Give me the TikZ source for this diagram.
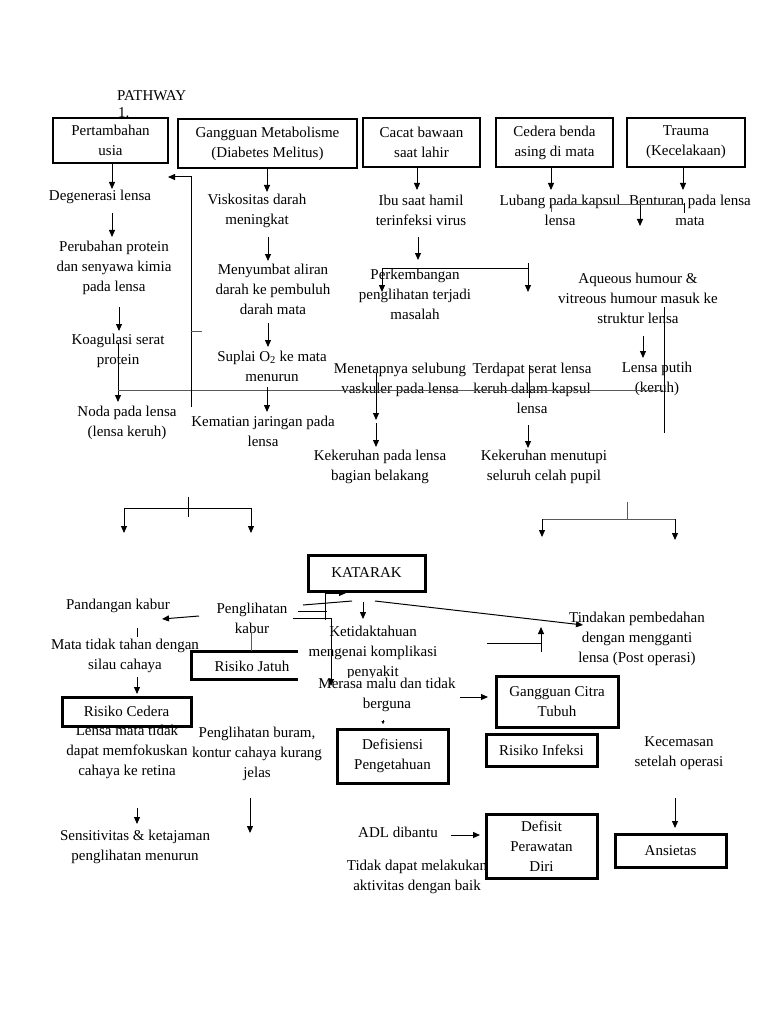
\documentclass[tikz,border=0pt]{standalone}
\usepackage{fontspec}
\setmainfont{Liberation Serif}
\usetikzlibrary{arrows.meta}
\begin{document}
\begin{tikzpicture}[x=1pt,y=-1pt,
  txt/.style={align=center,inner sep=0pt,font=\fontsize{15}{20}\selectfont},
  tbox/.style={draw,line width=1.1pt,fill=white,align=center,inner sep=0pt,font=\fontsize{15}{20}\selectfont},
  kbox/.style={draw,line width=3pt,fill=white,align=center,inner sep=0pt,font=\fontsize{15}{20}\selectfont},
  arr/.style={-{Triangle[length=7pt,width=6pt]},line width=1pt},
  ln/.style={line width=1pt},
  gln/.style={line width=1pt,draw=black!65}]
\fill[white] (0,0) rectangle (768,1024);
\useasboundingbox (0,0) rectangle (768,1024);

% title
\node[txt,anchor=west] (title) at (117,96) {PATHWAY};
\node[txt,anchor=west] (num) at (118,113) {1.};

% top boxes
\node[tbox,minimum width=115,minimum height=45] (b1) at (110.5,140.5) {Pertambahan\\usia};
\node[tbox,minimum width=179,minimum height=49] (b2) at (267.5,143.5) {Gangguan Metabolisme\\(Diabetes Melitus)};
\node[tbox,minimum width=117,minimum height=49] (b3) at (421.5,142.5) {Cacat bawaan\\saat lahir};
\node[tbox,minimum width=117,minimum height=49] (b4) at (554.5,142.5) {Cedera benda\\asing di mata};
\node[tbox,minimum width=118,minimum height=49] (b5) at (686,142.5) {Trauma\\(Kecelakaan)};

% column 1
\node[txt] (degen) at (100,197) {Degenerasi lensa};
\node[txt] (perubahan) at (114,268) {Perubahan protein\\dan senyawa kimia\\pada lensa};
\node[txt] (koag) at (118,350.5) {Koagulasi serat\\protein};
\node[txt] (noda) at (127,423) {Noda pada lensa\\(lensa keruh)};

% column 2
\node[txt] (visko) at (257,211) {Viskositas darah\\meningkat};
\node[txt] (menyumbat) at (273,289.5) {Menyumbat aliran\\darah ke pembuluh\\darah mata};
\node[txt] (suplai) at (272,366) {Suplai O\textsubscript{2} ke mata\\menurun};
\node[txt] (kematian) at (263,431) {Kematian jaringan pada\\lensa};

% column 3
\node[txt] (ibu) at (421,210) {Ibu saat hamil\\terinfeksi virus};
\node[txt] (perkembangan) at (415,294) {Perkembangan\\penglihatan terjadi\\masalah};
\node[txt] (menetap) at (400,380) {Menetapnya selubung\\vaskuler pada lensa};
\node[txt] (kek1) at (380,467) {Kekeruhan pada lensa\\bagian belakang};

% column 4/5
\node[txt] (lubang) at (560,210) {Lubang pada kapsul\\lensa};
\node[txt] (benturan) at (690,210) {Benturan pada lensa\\mata};
\node[txt] (aqueous) at (638,298.5) {Aqueous humour \&\\vitreous humour masuk ke\\struktur lensa};
\node[txt] (putih) at (657,379) {Lensa putih\\(keruh)};
\node[txt] (terdapat) at (532,388.5) {Terdapat serat lensa\\keruh dalam kapsul\\lensa};
\node[txt] (kek2) at (544,467) {Kekeruhan menutupi\\seluruh celah pupil};

% connectors upper part
\draw[arr] (112,163) -- (112,189);
\draw[arr] (112,213) -- (112,237);
\draw[arr] (119,307) -- (119,331);
\draw[arr] (118,343) -- (118,402);
\draw[gln] (118,390) -- (663,390);
\draw[arr] (191,407) -- (191,177) -- (168,177);
\draw[gln] (191,331) -- (202,331);
\draw[arr] (267,168) -- (267,192);
\draw[arr] (268,237) -- (268,261);
\draw[arr] (268,323) -- (268,347);
\draw[arr] (267,387) -- (267,412);
\draw[arr] (417,167) -- (417,190);
\draw[arr] (418,237) -- (418,260);
\draw[ln] (382,268) -- (528,268);
\draw[arr] (382,268) -- (382,292);
\draw[arr] (528,263) -- (528,292);
\draw[arr] (376,373) -- (376,420);
\draw[arr] (376,423) -- (376,447);
\draw[ln] (529,365) -- (529,398);
\draw[arr] (528,425) -- (528,448);
\draw[arr] (551,167) -- (551,190);
\draw[gln] (551,205) -- (684,205);
\draw[gln] (551,205) -- (551,212);
\draw[ln] (684,203) -- (684,213);
\draw[arr] (640,205) -- (640,226);
\draw[arr] (683,167) -- (683,190);
\draw[ln] (664,307) -- (664,433);
\draw[arr] (643,336) -- (643,358);

% branches
\draw[ln] (188,497) -- (188,517);
\draw[ln] (124,508) -- (251,508);
\draw[arr] (124,508) -- (124,533);
\draw[arr] (251,508) -- (251,533);
\draw[gln] (627,502) -- (627,519);
\draw[gln] (542,519) -- (675,519);
\draw[arr] (542,519) -- (542,537);
\draw[arr] (675,519) -- (675,540);

% KATARAK and lower part
\node[kbox,minimum width=117,minimum height=36] (katarak) at (366.5,573) {KATARAK};
\node[txt] (pandangan) at (118,606) {Pandangan kabur};
\node[txt] (penglihatan) at (252,618.5) {Penglihatan\\kabur};
\node[txt] (mata) at (125,656) {Mata tidak tahan dengan\\silau cahaya};
\node[txt] (tindakan) at (637,639) {Tindakan pembedahan\\dengan mengganti\\lensa (Post operasi)};
\node[txt] (ketidak) at (373,653) {Ketidaktahuan\\mengenai komplikasi\\penyakit};
\node[txt,fill=white] (merasa) at (387,694.5) {Merasa malu dan tidak\\berguna};

\draw[line width=3pt] (298,651) -- (191,651) -- (191,679) -- (298,679);
\node[txt] (jatuh) at (252,666) {Risiko Jatuh};
\node[kbox,minimum width=129,minimum height=29] (cedera) at (126.5,711.5) {Risiko Cedera};
\node[kbox,minimum width=122,minimum height=51] (citra) at (557,701.5) {Gangguan Citra\\Tubuh};
\node[txt] (lensamata) at (127,752) {Lensa mata tidak\\dapat memfokuskan\\cahaya ke retina};
\node[txt] (buram) at (257,754) {Penglihatan buram,\\kontur cahaya kurang\\jelas};
\node[txt] (sensi) at (135,847) {Sensitivitas \& ketajaman\\penglihatan menurun};
\node[kbox,minimum width=111,minimum height=54] (defisiensi) at (392.5,756) {Defisiensi\\Pengetahuan};
\node[kbox,minimum width=111,minimum height=32] (infeksi) at (541.5,750) {Risiko Infeksi};
\node[txt] (kecemasan) at (679,753) {Kecemasan\\setelah operasi};
\node[txt] (adl) at (398,832) {ADL dibantu};
\node[txt] (tidakdapat) at (417,876.5) {Tidak dapat melakukan\\aktivitas dengan baik};
\node[kbox,minimum width=111,minimum height=64] (defisit) at (541.5,846) {Defisit\\Perawatan\\Diri};
\node[kbox,minimum width=111,minimum height=33] (ansietas) at (670.5,850.5) {Ansietas};

\draw[arr] (363,602) -- (363,619);
\draw[arr] (325,620) -- (325,593) -- (346,593);
\draw[ln] (303,605) -- (352,601);
\draw[ln] (298,611) -- (327,611);
\draw[ln] (293,618) -- (331,618);
\draw[arr] (331,618) -- (331,686);
\draw[arr] (375,601) -- (583,625);
\draw[ln] (487,643) -- (541,643);
\draw[arr] (541,652) -- (541,627);
\draw[arr] (460,697) -- (488,697);
\draw[-{Triangle[length=3pt,width=3pt]}] (383,720) -- (383,724);
\draw[arr] (199,616) -- (162,619);
\draw[ln] (137,628) -- (137,637);
\draw[gln] (251,633) -- (251,651);
\draw[arr] (137,677) -- (137,694);
\draw[arr] (137,808) -- (137,824);
\draw[arr] (250,798) -- (250,833);
\draw[arr] (451,835) -- (480,835);
\draw[arr] (675,798) -- (675,828);
\end{tikzpicture}
\end{document}
